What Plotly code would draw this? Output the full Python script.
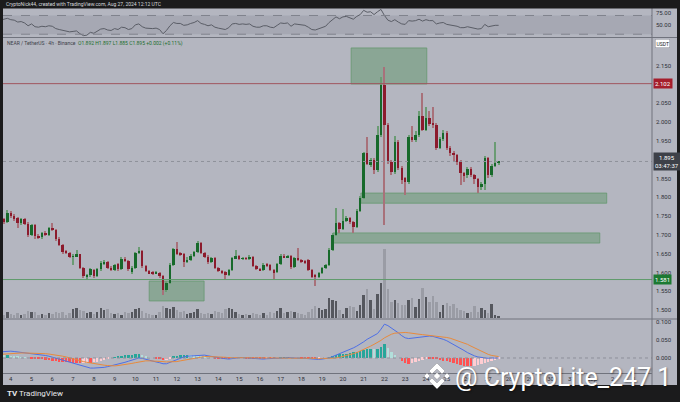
import numpy as np
import pandas as pd
import plotly.graph_objects as go

# NEAR/USDT 4h candles, Aug 3 12:00 -> Aug 27 12:00 UTC
START = "2024-08-03 12:00"

OPEN = [1.748, 1.742, 1.735, 1.758, 1.750, 1.744, 1.731, 1.741, 1.730, 1.700,
        1.726, 1.697, 1.693, 1.705, 1.700, 1.718, 1.714, 1.690, 1.673, 1.656,
        1.652, 1.641, 1.643, 1.648, 1.612, 1.590, 1.592, 1.606, 1.590, 1.609,
        1.624, 1.627, 1.613, 1.606, 1.622, 1.609, 1.636, 1.631, 1.600, 1.612,
        1.652, 1.657, 1.617, 1.603, 1.600, 1.598, 1.598, 1.590, 1.553, 1.572,
        1.620, 1.662, 1.650, 1.648, 1.630, 1.633, 1.644, 1.654, 1.678, 1.652,
        1.641, 1.628, 1.637, 1.612, 1.604, 1.601, 1.593, 1.606, 1.638, 1.644,
        1.636, 1.638, 1.636, 1.641, 1.617, 1.609, 1.606, 1.620, 1.620, 1.606,
        1.601, 1.622, 1.644, 1.640, 1.643, 1.614, 1.638, 1.633, 1.630, 1.633,
        1.606, 1.593, 1.588, 1.598, 1.612, 1.620, 1.660, 1.700, 1.731, 1.716,
        1.737, 1.745, 1.734, 1.721, 1.763, 1.798, 1.917, 1.886, 1.899, 1.872,
        1.965, 2.098, 1.992, 1.893, 1.867, 1.947, 1.878, 1.851, 1.840, 1.960,
        1.952, 1.965, 2.016, 1.979, 2.011, 1.995, 1.992, 1.931, 1.955, 1.971,
        1.931, 1.918, 1.912, 1.894, 1.864, 1.859, 1.875, 1.858, 1.848, 1.827,
        1.835, 1.904, 1.859, 1.883, 1.892]
HIGH = [1.752, 1.745, 1.766, 1.762, 1.754, 1.748, 1.745, 1.744, 1.733, 1.730,
        1.729, 1.701, 1.708, 1.710, 1.722, 1.731, 1.716, 1.693, 1.676, 1.660,
        1.655, 1.648, 1.660, 1.650, 1.615, 1.596, 1.612, 1.610, 1.613, 1.630,
        1.633, 1.630, 1.616, 1.623, 1.624, 1.640, 1.640, 1.634, 1.617, 1.655,
        1.668, 1.660, 1.620, 1.606, 1.604, 1.604, 1.601, 1.593, 1.576, 1.624,
        1.666, 1.681, 1.655, 1.652, 1.640, 1.648, 1.658, 1.683, 1.681, 1.655,
        1.645, 1.640, 1.641, 1.615, 1.607, 1.604, 1.610, 1.641, 1.660, 1.647,
        1.641, 1.641, 1.645, 1.644, 1.620, 1.612, 1.624, 1.624, 1.623, 1.609,
        1.625, 1.648, 1.648, 1.647, 1.645, 1.641, 1.664, 1.636, 1.633, 1.636,
        1.609, 1.596, 1.601, 1.615, 1.623, 1.664, 1.704, 1.771, 1.735, 1.768,
        1.750, 1.748, 1.737, 1.768, 1.802, 1.920, 1.960, 1.905, 1.905, 1.990,
        2.120, 2.146, 1.998, 1.898, 1.962, 1.952, 1.882, 1.855, 1.965, 1.990,
        1.975, 2.030, 2.077, 2.040, 2.030, 2.040, 1.997, 1.960, 1.978, 1.975,
        1.935, 1.922, 1.916, 1.898, 1.868, 1.880, 1.880, 1.862, 1.852, 1.840,
        1.910, 1.908, 1.888, 1.947, 1.897]
LOW = [1.740, 1.728, 1.732, 1.745, 1.737, 1.718, 1.727, 1.725, 1.695, 1.697,
       1.690, 1.688, 1.690, 1.697, 1.697, 1.710, 1.684, 1.670, 1.650, 1.648,
       1.638, 1.620, 1.640, 1.608, 1.585, 1.581, 1.588, 1.586, 1.587, 1.605,
       1.620, 1.608, 1.603, 1.604, 1.605, 1.606, 1.628, 1.605, 1.597, 1.609,
       1.648, 1.613, 1.600, 1.595, 1.594, 1.595, 1.586, 1.540, 1.548, 1.568,
       1.617, 1.646, 1.644, 1.614, 1.626, 1.630, 1.641, 1.651, 1.649, 1.638,
       1.622, 1.625, 1.608, 1.600, 1.597, 1.580, 1.590, 1.603, 1.635, 1.632,
       1.633, 1.633, 1.633, 1.614, 1.606, 1.603, 1.603, 1.614, 1.603, 1.582,
       1.598, 1.620, 1.637, 1.637, 1.610, 1.611, 1.630, 1.625, 1.622, 1.603,
       1.585, 1.564, 1.585, 1.595, 1.609, 1.617, 1.657, 1.697, 1.705, 1.713,
       1.734, 1.728, 1.705, 1.718, 1.760, 1.795, 1.885, 1.880, 1.862, 1.868,
       1.960, 1.726, 1.888, 1.860, 1.862, 1.873, 1.836, 1.806, 1.836, 1.947,
       1.948, 1.960, 1.975, 1.975, 1.990, 1.985, 1.925, 1.928, 1.950, 1.925,
       1.910, 1.895, 1.885, 1.832, 1.840, 1.850, 1.855, 1.835, 1.811, 1.820,
       1.819, 1.852, 1.855, 1.880, 1.885]
CLOSE = [1.743, 1.735, 1.758, 1.749, 1.742, 1.731, 1.741, 1.729, 1.700, 1.726,
         1.697, 1.693, 1.705, 1.700, 1.718, 1.714, 1.690, 1.673, 1.655, 1.652,
         1.641, 1.643, 1.648, 1.612, 1.590, 1.592, 1.608, 1.590, 1.610, 1.625,
         1.627, 1.612, 1.606, 1.620, 1.608, 1.636, 1.631, 1.609, 1.612, 1.652,
         1.657, 1.617, 1.603, 1.598, 1.598, 1.600, 1.590, 1.553, 1.572, 1.620,
         1.662, 1.650, 1.648, 1.628, 1.633, 1.644, 1.654, 1.678, 1.652, 1.641,
         1.628, 1.637, 1.612, 1.604, 1.601, 1.593, 1.606, 1.638, 1.643, 1.636,
         1.638, 1.636, 1.641, 1.617, 1.609, 1.606, 1.620, 1.618, 1.606, 1.601,
         1.622, 1.644, 1.640, 1.643, 1.614, 1.638, 1.633, 1.628, 1.625, 1.606,
         1.588, 1.588, 1.598, 1.612, 1.620, 1.660, 1.700, 1.731, 1.716, 1.737,
         1.745, 1.734, 1.721, 1.763, 1.798, 1.917, 1.888, 1.899, 1.872, 1.965,
         2.098, 1.992, 1.893, 1.867, 1.947, 1.878, 1.845, 1.840, 1.960, 1.952,
         1.965, 2.016, 1.979, 2.011, 1.995, 1.992, 1.931, 1.955, 1.971, 1.931,
         1.918, 1.912, 1.894, 1.864, 1.859, 1.875, 1.858, 1.848, 1.827, 1.835,
         1.904, 1.859, 1.883, 1.891, 1.895]
VOLUME = [5, 3, 6, 4, 3, 5, 3, 4, 7, 6,
          6, 3, 4, 3, 5, 4, 6, 5, 6, 3,
          5, 9, 10, 8, 7, 5, 6, 4, 6, 10,
          8, 9, 5, 4, 5, 3, 6, 5, 6, 9,
          10, 7, 5, 4, 3, 3, 6, 12, 10, 9,
          11, 8, 6, 7, 4, 5, 6, 9, 5, 4,
          5, 4, 7, 6, 5, 9, 10, 9, 6, 4,
          3, 4, 3, 5, 4, 3, 5, 3, 6, 5,
          7, 10, 5, 6, 7, 6, 5, 4, 3, 6,
          9, 12, 10, 8, 9, 20, 18, 17, 8, 4,
          10, 12, 11, 7, 13, 23, 29, 18, 9, 24,
          36, 70, 29, 16, 18, 15, 13, 13, 18, 20,
          11, 19, 30, 21, 16, 22, 16, 6, 13, 15,
          12, 14, 10, 8, 7, 5, 6, 12, 6, 10,
          8, 5, 14, 3, 2]
RSI = [60, 62, 64, 61, 60, 56, 57, 54, 48, 52,
       46, 45, 47, 46, 48, 47, 42, 40, 38, 37,
       35, 36, 37, 31, 27, 28, 34, 32, 37, 41,
       42, 39, 38, 42, 40, 45, 44, 40, 42, 50,
       52, 46, 43, 42, 42, 43, 40, 31, 38, 48,
       55, 53, 53, 49, 50, 53, 55, 59, 53, 51,
       48, 50, 45, 43, 42, 40, 44, 52, 53, 51,
       52, 51, 52, 47, 45, 45, 48, 48, 45, 44,
       49, 54, 53, 54, 47, 52, 51, 50, 49, 45,
       40, 39, 42, 45, 47, 55, 62, 67, 63, 67,
       68, 65, 62, 68, 72, 81, 77, 78, 72, 78,
       83, 70, 60, 57, 61, 56, 52, 51, 59, 58,
       59, 62, 58, 61, 59, 59, 52, 54, 55, 51,
       50, 49, 47, 44, 44, 46, 44, 43, 41, 42,
       51, 46, 48, 49, 49]
# MACD and signal in thousandths
MACD_K = [17, 18, 19, 19, 18, 17, 16, 15, 14, 13,
          12, 11, 9, 7, 5, 3, 0, -3, -6, -9,
          -12, -15, -18, -21, -24, -26, -28, -28, -28, -27,
          -26, -24, -22, -20, -17, -14, -12, -9, -6, -3,
          0, -1, -4, -6, -8, -11, -13, -16, -16, -12,
          -8, -4, 0, 3, 5, 6, 7, 8, 9, 8,
          6, 4, 2, 0, -1, -2, -3, -1, 1, 1,
          1, 0, -1, -2, -2, -3, -3, -2, -2, -2,
          -1, 0, 0, 1, 0, 0, 0, -1, -1, -2,
          -3, -4, -4, -3, -2, 0, 4, 8, 12, 15,
          18, 23, 28, 33, 38, 45, 52, 58, 62, 68,
          80, 94, 90, 84, 78, 70, 62, 56, 54, 55,
          57, 59, 60, 61, 61, 60, 58, 55, 52, 48,
          43, 38, 32, 26, 21, 15, 10, 6, 3, 1,
          0, -1, 0, 0, 0]
SIGNAL_K = [10, 11, 12, 13, 13, 14, 14, 14, 14, 14,
            14, 13, 13, 12, 11, 10, 9, 7, 5, 3,
            0, -2, -4, -7, -10, -12, -14, -16, -18, -19,
            -20, -21, -22, -22, -21, -20, -19, -17, -15, -13,
            -11, -9, -8, -8, -8, -9, -9, -10, -11, -11,
            -11, -10, -8, -6, -4, -2, 0, 2, 3, 4,
            4, 4, 4, 3, 3, 2, 1, 1, 1, 1,
            1, 1, 0, 0, 0, -1, -1, -1, -1, -1,
            -1, -1, -1, -1, 0, 0, 0, 0, 0, -1,
            -1, -1, -2, -2, -2, -2, -1, 0, 2, 4,
            6, 9, 12, 15, 19, 23, 28, 33, 38, 43,
            49, 56, 62, 66, 69, 70, 71, 71, 70, 68,
            67, 66, 65, 64, 64, 63, 62, 61, 59, 57,
            55, 52, 49, 46, 42, 38, 33, 28, 23, 18,
            14, 10, 7, 5, 4]

PRICE_TICKS = [1.50, 1.55, 1.60, 1.65, 1.70, 1.75, 1.80, 1.85, 1.95, 2.00, 2.05, 2.15]
RSI_TICKS = [50, 75]
MACD_TICKS = [0.0, 0.05, 0.10]
DAY_TICKS = pd.date_range("2024-08-04", "2024-09-03", freq="D")
DAY_TEXT = ["Sep" if d.day == 1 and d.month == 9 else str(d.day) for d in DAY_TICKS]
LEVEL_RED = 2.102
LEVEL_GREEN = 1.581
LAST_PRICE = 1.895
COUNTDOWN = "03:47:37"

# zones drawn on the chart: (t0, t1, p_low, p_high)
ZONES = [
    ("2024-08-20 09:30", "2024-08-24 01:00", 2.101, 2.197),
    ("2024-08-20 20:45", "2024-09-01 17:00", 1.784, 1.811),
    ("2024-08-19 12:30", "2024-09-01 09:00", 1.678, 1.705),
    ("2024-08-10 16:00", "2024-08-13 07:30", 1.524, 1.577),
]

BG = "#b4b6c0"
DARK = "#1b1b1c"
TXT = "#2e3038"
UP, DOWN = "#17692b", "#8c1b2d"
UP_WICK, DOWN_WICK = "#6b9c74", "#a8717a"

t = pd.date_range(START, periods=len(CLOSE), freq="4h")
o, h, l, c = map(np.array, (OPEN, HIGH, LOW, CLOSE))
up = c >= o
step = 4 * 3600 * 1000
body_w = 0.7 * step
wick_w = 0.3 * step

macd = np.array(MACD_K) / 1000
sig = np.array(SIGNAL_K) / 1000
hist = macd - sig
hist_cols = []
for i, v in enumerate(hist):
    prev = hist[i - 1] if i else v
    if v >= 0:
        hist_cols.append("#26a69a" if v >= prev else "#b2dfdb")
    else:
        hist_cols.append("#ff5252" if v <= prev else "#ffcdd2")


def px_x(px):
    return (px - 3) / 649


def px_y(py):
    return (373 - py) / 365


fig = go.Figure()

# volume (overlay in the price pane)
fig.add_trace(go.Bar(x=t, y=VOLUME, width=body_w, yaxis="y4",
                     marker=dict(color=np.where(up, "#55575e", "#9a9ca5"), line_width=0),
                     hoverinfo="skip"))
# wicks + bodies
fig.add_trace(go.Bar(x=t, base=l, y=h - l, width=wick_w, yaxis="y2",
                     marker=dict(color=np.where(up, UP_WICK, DOWN_WICK), line_width=0)))
fig.add_trace(go.Bar(x=t, base=np.minimum(o, c), y=np.maximum(np.abs(c - o), 0.0012),
                     width=body_w, yaxis="y2",
                     marker=dict(color=np.where(up, UP, DOWN), line_width=0)))
# RSI
fig.add_trace(go.Scatter(x=t, y=RSI, mode="lines", yaxis="y",
                         line=dict(color="#5a5d66", width=1)))
# MACD
fig.add_trace(go.Bar(x=t, y=hist, width=body_w, yaxis="y3",
                     marker=dict(color=hist_cols, line_width=0)))
fig.add_trace(go.Scatter(x=t, y=macd, mode="lines", yaxis="y3",
                         line=dict(color="#4d6fe6", width=1)))
fig.add_trace(go.Scatter(x=t, y=sig, mode="lines", yaxis="y3",
                         line=dict(color="#e88a3c", width=1)))

shapes = []
# RSI band
shapes.append(dict(type="rect", xref="paper", yref="y", x0=0, x1=1, y0=30, y1=70,
                   fillcolor="rgba(95,98,110,0.16)", line_width=0, layer="below"))
for lvl in (30, 70):
    shapes.append(dict(type="line", xref="paper", yref="y", x0=0, x1=1, y0=lvl, y1=lvl,
                       line=dict(color="#80838d", width=1, dash="dash")))
# zones
for t0, t1, p0, p1 in ZONES:
    shapes.append(dict(type="rect", xref="x", yref="y2", x0=t0, x1=t1, y0=p0, y1=p1,
                       fillcolor="rgba(95,150,105,0.5)",
                       line=dict(color="rgba(95,150,105,0.7)", width=1), layer="below"))
# levels
shapes.append(dict(type="line", xref="paper", yref="y2", x0=0, x1=1, y0=LEVEL_RED, y1=LEVEL_RED,
                   line=dict(color="#a0555f", width=1)))
shapes.append(dict(type="line", xref="paper", yref="y2", x0=0, x1=1, y0=LEVEL_GREEN, y1=LEVEL_GREEN,
                   line=dict(color="#5e9a6b", width=1)))
shapes.append(dict(type="line", xref="paper", yref="y2", x0=0, x1=1, y0=LAST_PRICE, y1=LAST_PRICE,
                   line=dict(color="#8e919a", width=1, dash="dot")))
shapes.append(dict(type="line", xref="paper", yref="y3", x0=0, x1=1, y0=0, y1=0,
                   line=dict(color="#8e919a", width=1, dash="dot")))
# pane separators and axis border
for py in (37.5, 319):
    shapes.append(dict(type="line", xref="paper", yref="paper", x0=0, x1=px_x(677),
                       y0=px_y(py), y1=px_y(py), line=dict(color="#70737d", width=1.2)))
shapes.append(dict(type="line", xref="paper", yref="paper", x0=1, x1=1,
                   y0=px_y(385), y1=1, line=dict(color="#70737d", width=1)))
# dark frame
for x0, x1, y0, y1 in [(0, 680, 0, 8.5), (0, 680, 385, 402), (0, 3, 0, 402), (677, 680, 0, 402)]:
    shapes.append(dict(type="rect", xref="paper", yref="paper", x0=px_x(x0), x1=px_x(x1),
                       y0=px_y(y1), y1=px_y(y0), fillcolor=DARK, line_width=0))
# binance logo
logo = [
    [(437, 363), (445, 371), (442, 374), (437, 369), (432, 374), (429, 371)],
    [(437, 389), (445, 381), (442, 378), (437, 383), (432, 378), (429, 381)],
    [(437, 372.5), (440.5, 376), (437, 379.5), (433.5, 376)],
    [(427, 373), (430, 376), (427, 379), (424, 376)],
    [(447, 373), (450, 376), (447, 379), (444, 376)],
]
for pts in logo:
    path = "M " + " L ".join(f"{px_x(a):.4f},{px_y(b):.4f}" for a, b in pts) + " Z"
    shapes.append(dict(type="path", xref="paper", yref="paper", path=path,
                       fillcolor="white", line=dict(color="rgba(60,60,60,0.4)", width=0.6)))

ann = []


def label(text, y, bg, fg="white", yref="y2"):
    ann.append(dict(text=text, xref="paper", yref=yref, x=1, y=y, xanchor="left",
                    yanchor="middle", xshift=1, showarrow=False, bgcolor=bg, borderpad=1,
                    font=dict(size=6, color=fg, family="Roboto")))


def note(text, px, py, size, color, **kw):
    ann.append(dict(text=text, xref="paper", yref="paper", x=px_x(px), y=px_y(py),
                    xanchor="left", yanchor="middle", showarrow=False,
                    font=dict(size=size, color=color, family="Roboto",
                              shadow=kw.pop("shadow", "none")), **kw))


label(f"{LEVEL_RED:.3f}", LEVEL_RED, "#a51e2c")
label(f"{LAST_PRICE:.3f}<br>{COUNTDOWN}", LAST_PRICE, "#3d4048")
label(f"{LEVEL_GREEN:.3f}", LEVEL_GREEN, "#1d7a32")
note("USDT", 655, 43.5, 5, "#131722", bgcolor="white", bordercolor="#8e919a",
     borderwidth=0.5, borderpad=1)
note("CryptoNick44, created with TradingView.com, Aug 27, 2024 12:12 UTC", 4, 4.3, 5, "#d6d8de")
g = "#1c6e2c"
note(("NEAR / TetherUS · 4h · Binance  "
      f"<span style='color:{g}'>O1.892</span> <span style='color:{g}'>H1.897</span> "
      f"<span style='color:{g}'>L1.885</span> <span style='color:{g}'>C1.895</span> "
      f"<span style='color:{g}'>+0.002 (+0.11%)</span>"), 5, 43.5, 5, "#3e4149")
note("<b>TV</b> TradingView", 5, 393.5, 8, "#e8e9ec")
note("@ CryptoLite_247 1", 453, 377.5, 25, "white", shadow="1px 1px 2px rgba(0,0,0,0.45)")

axis_font = dict(size=6, color=TXT, family="Roboto")
yax = dict(side="right", showgrid=False, zeroline=False, ticks="", tickfont=axis_font,
           ticklabelstandoff=3, fixedrange=True)

fig.update_layout(
    width=680, height=402,
    margin=dict(l=3, r=28, t=8, b=29),
    paper_bgcolor=BG, plot_bgcolor=BG,
    showlegend=False, barmode="overlay", bargap=0,
    xaxis=dict(type="date", range=["2024-08-03 15:00", "2024-09-03 21:20"],
               anchor="y3", showgrid=False, zeroline=False,
               tickvals=DAY_TICKS, ticktext=DAY_TEXT, ticks="", tickfont=axis_font,
               showline=True, linecolor="#70737d", linewidth=1, rangeslider=dict(visible=False)),
    yaxis=dict(domain=[0.9205, 1.0], range=[24, 86], tickvals=RSI_TICKS,
               ticktext=[f"{v:.2f}" for v in RSI_TICKS], **yax),
    yaxis2=dict(domain=[0.1507, 0.9178], range=[1.4787, 2.2234], tickvals=PRICE_TICKS,
                ticktext=[f"{v:.3f}" for v in PRICE_TICKS], **yax),
    yaxis3=dict(domain=[0.0, 0.1452], range=[-0.0417, 0.1056], tickvals=MACD_TICKS,
                ticktext=[f"{v:.3f}" for v in MACD_TICKS], **yax),
    yaxis4=dict(overlaying="y2", range=[0, 284], visible=False, fixedrange=True),
    shapes=shapes, annotations=ann,
)

# the page body has a default 8px margin; drop it so the figure sits at 0,0
fig.write_html("out.html", config={"displayModeBar": False},
               post_script="document.body.style.margin='0';")
